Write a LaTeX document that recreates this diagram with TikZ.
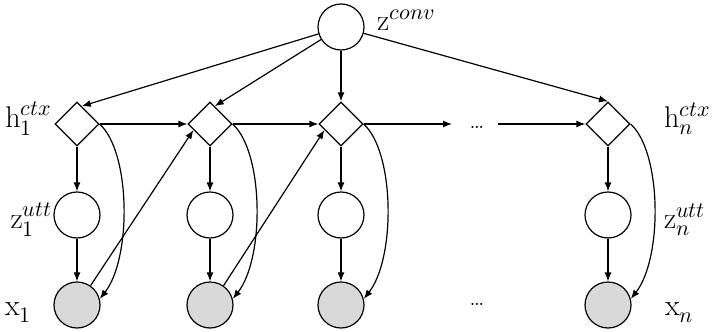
\documentclass[tikz,border=0pt]{standalone}
\usepackage{unicode-math}
\setmathfont{Latin Modern Math}
\usetikzlibrary{shapes.geometric,arrows.meta,positioning}
\definecolor{obsgray}{HTML}{D9D9D9}
\DeclareMathSizes{30}{30}{22}{18}
\begin{document}
\begin{tikzpicture}[x=1pt,y=-1pt,
  lw/.style={line width=1.2pt},
  arr/.style={lw,-{Latex[length=9pt,width=7pt]}},
  hid/.style={draw,lw,diamond,minimum width=44pt,minimum height=44pt,inner sep=0pt},
  lat/.style={draw,lw,circle,minimum size=46pt,inner sep=0pt},
  obs/.style={lat,fill=obsgray},
  lab/.style={font=\fontsize{30}{36}\selectfont,inner sep=0pt},
  dotlab/.style={font=\fontsize{26}{30}\selectfont,inner sep=0pt}]
\useasboundingbox (0,0) rectangle (715,332);
% nodes
\node[lat] (zc) at (341,27) {};
\node[hid] (h1) at (77,124) {};
\node[hid] (h2) at (210,124) {};
\node[hid] (h3) at (341,124) {};
\node[hid] (hn) at (608,124) {};
\node[lat] (z1) at (77,215) {};
\node[lat] (z2) at (210,215) {};
\node[lat] (z3) at (341,215) {};
\node[lat] (zn) at (608,215) {};
\node[obs] (x1) at (77,305) {};
\node[obs] (x2) at (210,305) {};
\node[obs] (x3) at (341,305) {};
\node[obs] (xn) at (608,305) {};
\coordinate (da) at (452,124);
\coordinate (db) at (498,124);
\node[dotlab] (dt) at (477,127) {\ldots};
\node[dotlab] (dbt) at (477,304) {\ldots};
% labels
\node[lab,anchor=base west] (lzc) at (377,30) {$\mathrm{z}^{conv}$};
\node[lab,anchor=base east] (lh1) at (52,127) {$\mathrm{h}_1^{ctx}$};
\node[lab,anchor=base east] (lz1) at (52,228) {$\mathrm{z}_1^{utt}$};
\node[lab,anchor=base west] (lx1) at (5,315) {$\mathrm{x}_1$};
\node[lab,anchor=base west] (lhn) at (664,127) {$\mathrm{h}_n^{ctx}$};
\node[lab,anchor=base west] (lzn) at (664,228) {$\mathrm{z}_n^{utt}$};
\node[lab,anchor=base west] (lxn) at (665,315) {$\mathrm{x}_n$};
% top arrows
\draw[arr] (zc) -- (h1.75);
\draw[arr] (zc) -- (h2.75);
\draw[arr] (zc) -- (h3);
\draw[arr] (zc) -- (hn.north);
% horizontal chain
\draw[arr] (h1.east) -- (h2.west);
\draw[arr] (h2.east) -- (h3.west);
\draw[arr] (h3.east) -- (da);
\draw[arr] (db) -- (hn.west);
% vertical
\foreach \i in {1,2,3,n}{
  \draw[arr] (h\i) -- (z\i);
  \draw[arr] (z\i) -- (x\i);
  \draw[arr] (h\i.east) to[out=-42,in=52,out distance=42,in distance=52] (x\i.15);
}
% diagonal
\draw[arr] (x1.55) -- (h2.200);
\draw[arr] (x2.55) -- (h3.200);
\end{tikzpicture}
\end{document}
